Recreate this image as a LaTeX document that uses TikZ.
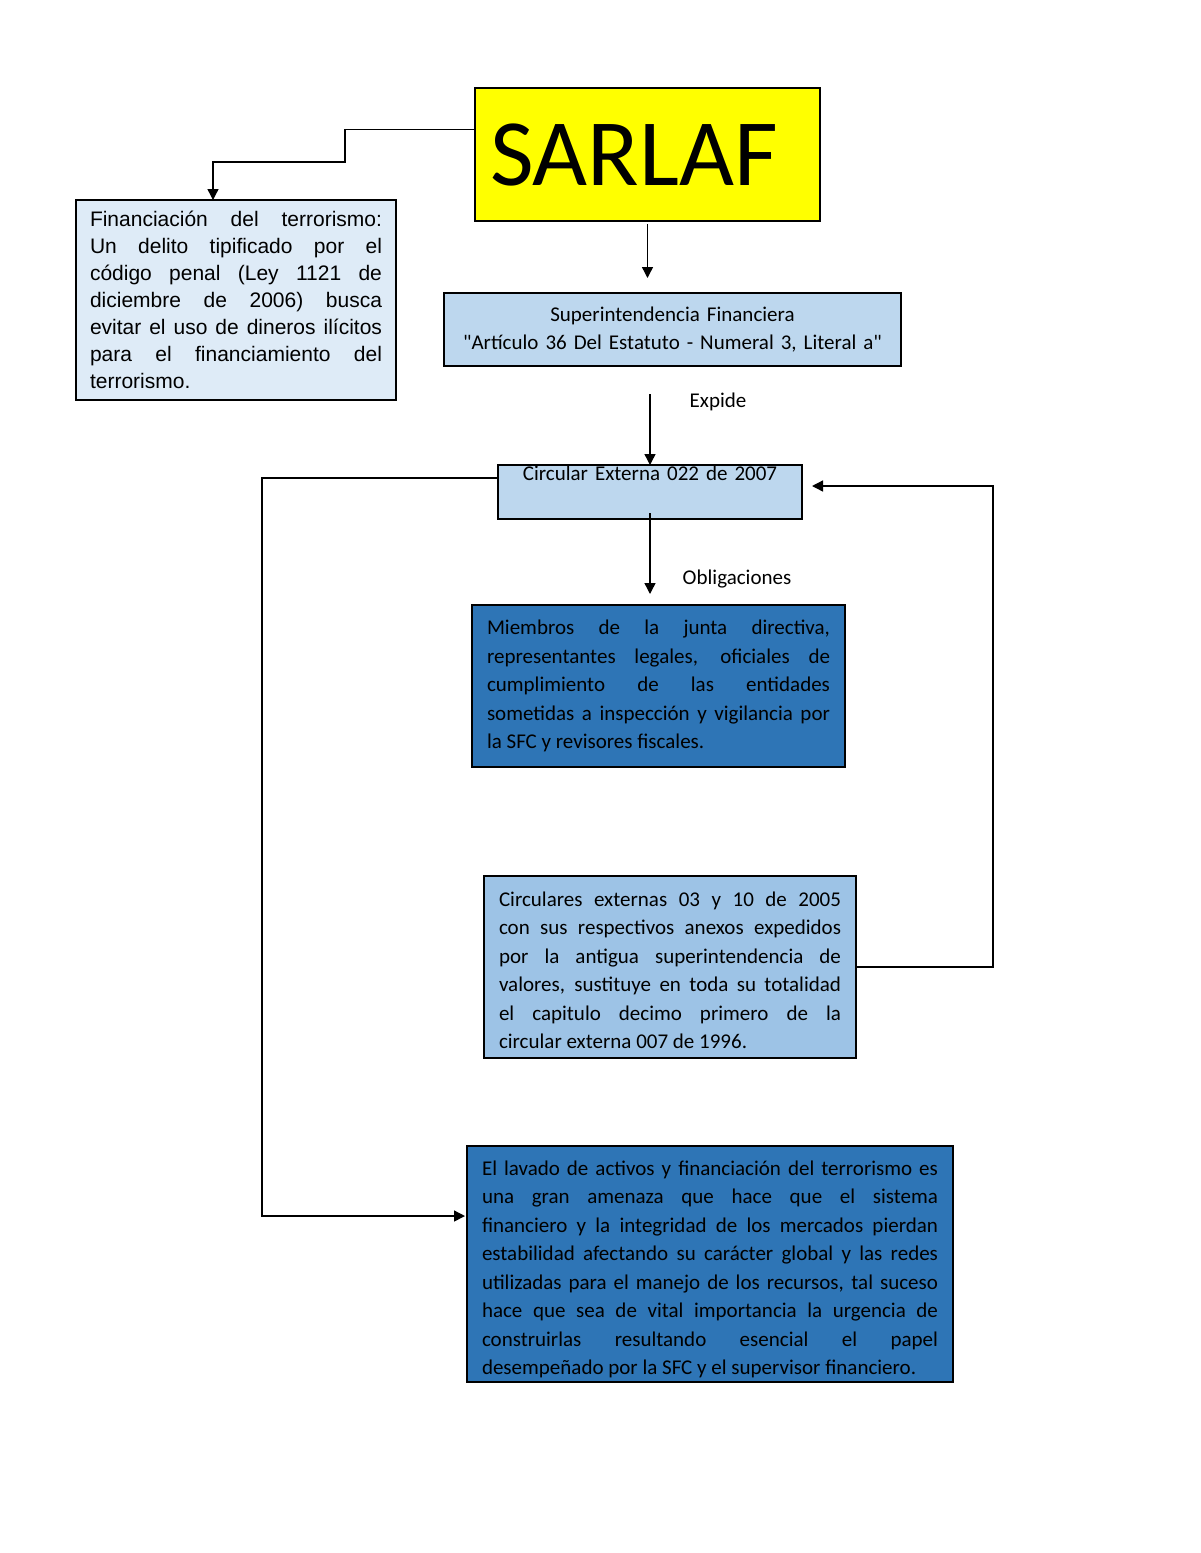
\documentclass[tikz,border=0pt]{standalone}
\usepackage{fontspec}
\setmainfont{Carlito}
\newfontfamily\arialfont{Liberation Sans}
\usetikzlibrary{arrows.meta, positioning}
\definecolor{sarlafyellow}{HTML}{FFFF00}
\definecolor{palesky}{HTML}{DEEBF7}
\definecolor{lightsky}{HTML}{BDD7EE}
\definecolor{midsky}{HTML}{9DC3E6}
\definecolor{deepsky}{HTML}{2E75B6}
\newcommand{\plainquote}{\XeTeXglyph\XeTeXcharglyph"22\relax}
\tolerance=10000
\hbadness=10000
\tikzstyle{block} = [rectangle, draw, line width=2.5pt, outer sep=0pt, inner xsep=15pt, inner ysep=0pt, align=justify, font=\fontsize{21}{28.5}\selectfont]
\tikzstyle{arrow} = [line width=1.4pt, -{Triangle[width=11pt,length=11pt]}]
\tikzstyle{tag} = [font=\fontsize{21}{28.5}\selectfont]

\begin{document}
\begin{tikzpicture}[x=1pt, y=1pt]
    \useasboundingbox (0,0) rectangle (1200,-1553);

    % Top
    \node (sarlaf) [block, fill=sarlafyellow, minimum width=345pt, minimum height=133pt, text width=315pt, align=left, anchor=north west, font=\fontsize{95}{95}\selectfont] at (475,-88) {SARLAF};
    \node (finan) [block, fill=palesky, minimum width=320pt, minimum height=200pt, text width=292pt, inner xsep=14pt, font=\arialfont\fontsize{21}{27}\selectfont, below=112pt of sarlaf.north west, anchor=north west, xshift=-399pt] {Financiación del terrorismo:\linebreak Un delito tipificado por el\linebreak código penal (Ley 1121 de\linebreak diciembre de 2006) busca\linebreak evitar el uso de dineros ilícitos\linebreak para el financiamiento del\linebreak terrorismo.};
    \node (super) [block, fill=lightsky, minimum width=457pt, minimum height=73pt, text width=427pt, align=center, below=72pt of sarlaf.south west, anchor=north west, xshift=-31pt] {Superintendencia Financiera\\\plainquote Artículo 36 Del Estatuto - Numeral 3, Literal a\plainquote};
    \node (circ) [block, fill=lightsky, minimum width=304pt, minimum height=54pt, text width=274pt, align=center, below=99pt of super.south west, anchor=north west, xshift=54pt] {Circular Externa 022 de 2007\\[10pt] \mbox{}};

    % Lower boxes
    \node (miembros) [block, fill=deepsky, minimum width=373pt, minimum height=162pt, text width=343pt, below=86pt of circ.south west, anchor=north west, xshift=-26pt] {Miembros de la junta directiva,\linebreak representantes legales, oficiales de\linebreak cumplimiento de las entidades\linebreak sometidas a inspección y vigilancia por\linebreak la SFC y revisores fiscales.};
    \node (circulares) [block, fill=midsky, minimum width=372pt, minimum height=182pt, text width=342pt, below=109pt of miembros.south west, anchor=north west, xshift=12pt] {\rule{0pt}{21pt}Circulares externas 03 y 10 de 2005\linebreak con sus respectivos anexos expedidos\linebreak por la antigua superintendencia de\linebreak valores, sustituye en toda su totalidad\linebreak el capitulo decimo primero de la\linebreak circular externa 007 de 1996.};
    \node (lavado) [block, fill=deepsky, minimum width=486pt, minimum height=236pt, text width=456pt, below=88pt of circulares.south west, anchor=north west, xshift=-17pt] {\rule{0pt}{25pt}El lavado de activos y financiación del terrorismo es\linebreak una gran amenaza que hace que el sistema\linebreak financiero y la integridad de los mercados pierdan\linebreak estabilidad afectando su carácter global y las redes\linebreak utilizadas para el manejo de los recursos, tal suceso\linebreak hace que sea de vital importancia la urgencia de\linebreak construirlas resultando esencial el papel\linebreak desempeñado por la SFC y el supervisor financiero.};

    % Labels
    \node (expide) [tag] at (718,-402) {Expide};
    \node (oblig) [tag] at (737,-579) {Obligaciones};

    % Bends
    \coordinate (elbow) at (345,-162);
    \coordinate (loopL) at (262,-478);
    \coordinate (loopR) at (993,-486);

    % ==== Arrows
    \draw [arrow] ([yshift=25pt]sarlaf.west) -| (elbow) -| ([xshift=-23pt]finan.north);
    \draw [arrow, shorten <=3pt, shorten >=15pt] (sarlaf.south) -- (sarlaf.south |- super.north);
    \draw [arrow, shorten <=28pt] (circ.north |- super.south) -- (circ.north);
    \draw [arrow, shorten <=-6pt, shorten >=11pt] (circ.south) -- (circ.south |- miembros.north);

    % Loops
    \draw [arrow] ([yshift=14pt]circ.west) -| (loopL) |- ([yshift=48pt,xshift=-2pt]lavado.west);
    \draw [arrow] (circulares.east) -| (loopR) |- ([xshift=10pt,yshift=6pt]circ.east);

\end{tikzpicture}
\end{document}
